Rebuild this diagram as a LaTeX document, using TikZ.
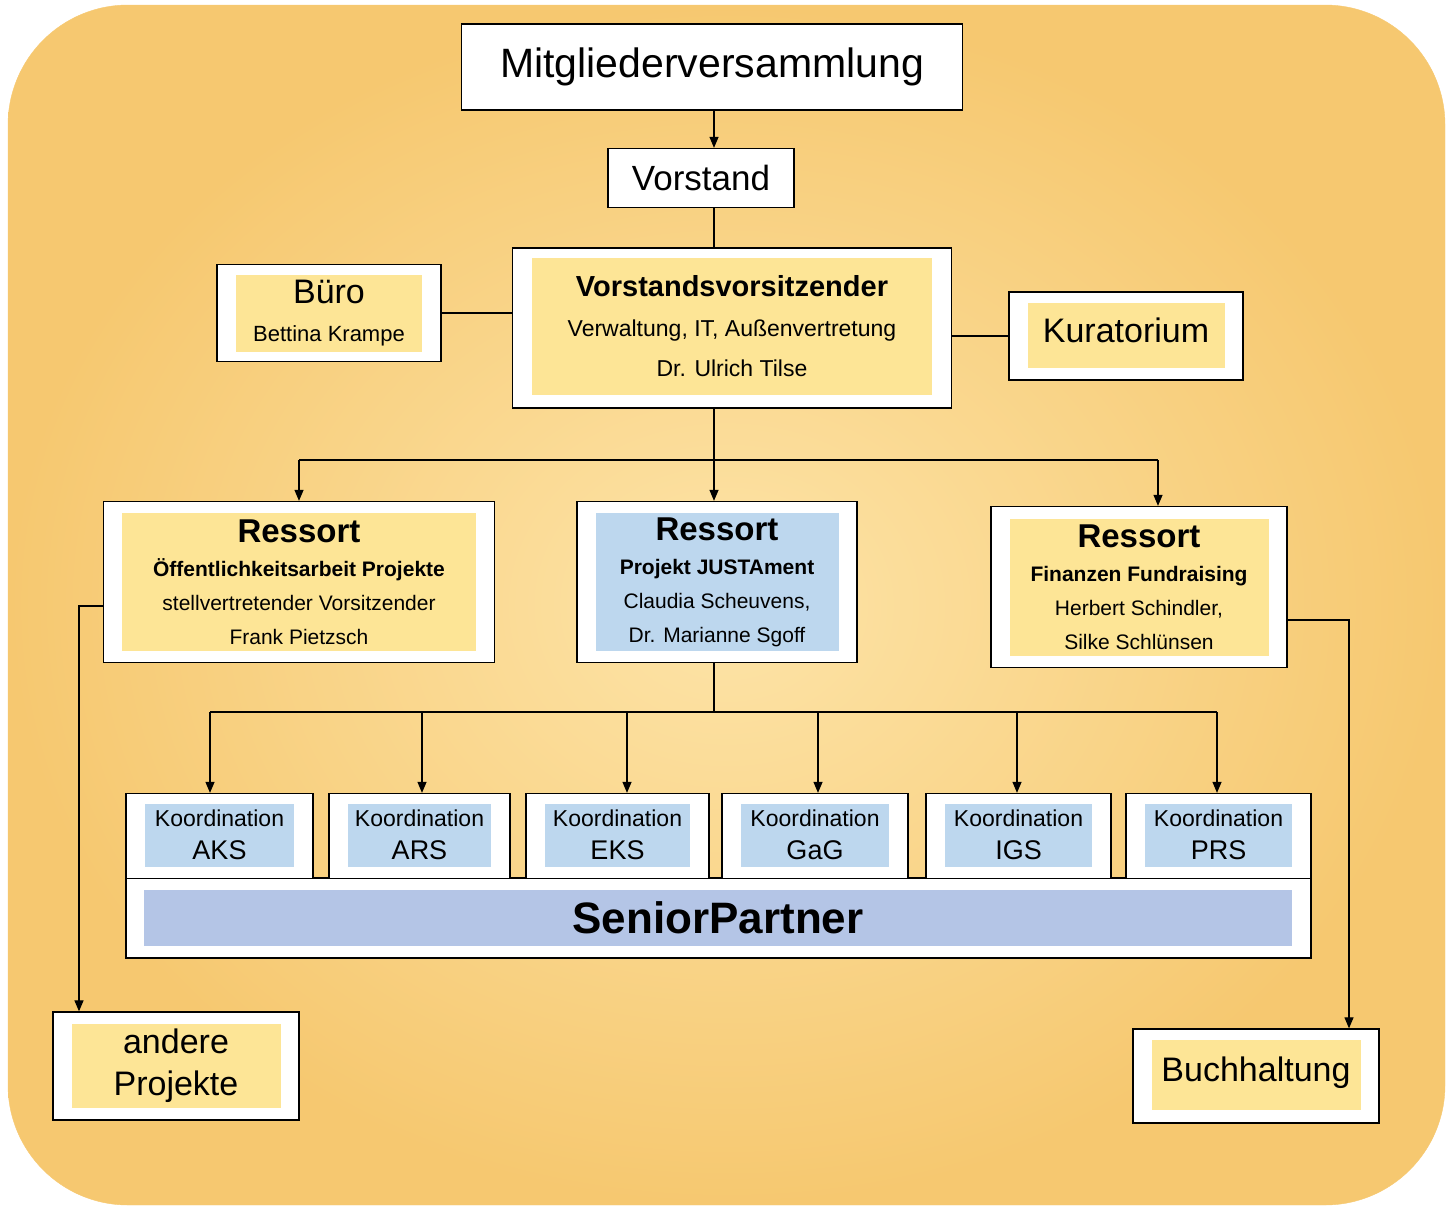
\documentclass[tikz,border=0pt]{standalone}
\usepackage{fontspec}
\setmainfont{Liberation Sans}
\usetikzlibrary{arrows.meta}
\definecolor{bgin}{RGB}{253,228,168}
\definecolor{bgout}{RGB}{246,200,112}
\definecolor{ylw}{RGB}{253,229,150}
\definecolor{blu}{RGB}{189,215,238}
\definecolor{spblu}{RGB}{180,197,230}
\tikzset{
  outer/.style={draw=black,fill=white,line width=1.3pt,inner sep=0pt},
  inner/.style={inner sep=0pt,align=center,font=#1},
  yl/.style={fill=ylw},
  bl/.style={fill=blu},
  arr/.style={-{Triangle[length=11pt,width=9pt]},line width=1.2pt},
  ln/.style={line width=1.2pt},
  koord/.style={outer,minimum height=85pt},
}
\begin{document}
\begin{tikzpicture}[x=1pt,y=1pt,yscale=-1]
\useasboundingbox (0,0) rectangle (1451,1210);
% background
\shade[inner color=bgin,outer color=bgout,rounded corners=120pt,draw=bgout] (8,5) rectangle (1445,1205);

% top
\node[outer,minimum width=501pt,minimum height=86pt,font=\fontsize{41}{46}\selectfont] (mv) at (712,67) {\raisebox{4pt}{Mitgliederversammlung}};
\node[outer,minimum width=186pt,minimum height=59pt,font=\fontsize{35}{40}\selectfont] (vs) at (701,178) {Vorstand};

% Vorsitzender
\node[outer,minimum width=439pt,minimum height=160pt] (vv) at (732,328) {};
\node[inner=\fontsize{23}{40}\selectfont,yl,minimum width=400pt,minimum height=137pt] (vvi) at (732,326)
  {{\fontsize{29}{34}\selectfont\bfseries Vorstandsvorsitzender}\\Verwaltung, IT, Außenvertretung\\Dr. Ulrich Tilse};
\node[outer,minimum width=224pt,minimum height=97pt] (bu) at (329,313) {};
\node[inner=\fontsize{22}{38}\selectfont,yl,minimum width=186pt,minimum height=77pt] (bui) at (329,313)
  {{\fontsize{34}{36}\selectfont Büro}\\Bettina Krampe};
\node[outer,minimum width=234pt,minimum height=88pt] (ku) at (1126,336) {};
\node[inner=\fontsize{34}{38}\selectfont,yl,minimum width=197pt,minimum height=65pt,anchor=center] (kui) at (1126,335)
  {\raisebox{10pt}{Kuratorium}};

% Ressorts
\node[outer,minimum width=391pt,minimum height=161pt] (r1) at (299,582) {};
\node[inner=\fontsize{21}{34}\selectfont,yl,minimum width=354pt,minimum height=138pt] (r1i) at (299,582)
  {{\fontsize{33}{36}\selectfont\bfseries Ressort}\\{\bfseries Öffentlichkeitsarbeit Projekte}\\stellvertretender Vorsitzender\\Frank Pietzsch};
\node[outer,minimum width=280pt,minimum height=161pt] (r2) at (717,582) {};
\node[inner=\fontsize{21}{34}\selectfont,bl,minimum width=243pt,minimum height=138pt] (r2i) at (717,582)
  {{\fontsize{33}{36}\selectfont\bfseries Ressort}\\{\bfseries Projekt JUSTAment}\\Claudia Scheuvens,\\Dr. Marianne Sgoff};
\node[outer,minimum width=296pt,minimum height=161pt] (r3) at (1139,587) {};
\node[inner=\fontsize{21}{34}\selectfont,yl,minimum width=259pt,minimum height=137pt] (r3i) at (1139,587)
  {{\fontsize{33}{36}\selectfont\bfseries Ressort}\\{\bfseries Finanzen Fundraising}\\Herbert Schindler,\\Silke Schlünsen};

% SeniorPartner
\node[outer,minimum width=1185pt,minimum height=80pt] (sp) at (718.5,918) {};
\node[inner=\fontsize{44}{48}\selectfont\bfseries,fill=spblu,minimum width=1148pt,minimum height=56pt] (spi) at (718,918) {SeniorPartner};

% Koordination
\foreach \nm/\cx/\w/\lab in {k1/219.5/187/AKS,k2/419.5/181/ARS,k3/617.5/183/EKS,k4/815/186/GaG,k5/1018.5/185/IGS,k6/1218.5/185/PRS}{
  \node[koord,minimum width=\w pt] (\nm) at (\cx,836) {};
  \node[inner=\fontsize{23}{33}\selectfont,bl,minimum width=\w pt-38pt,minimum height=63pt] (\nm i) at (\cx,835)
    {Koordination\\{\fontsize{27}{30}\selectfont\lab}};
}

% bottom
\node[outer,minimum width=246pt,minimum height=108pt] (ap) at (176,1066) {};
\node[inner=\fontsize{34}{42}\selectfont,yl,minimum width=209pt,minimum height=84pt] (api) at (176,1066) {andere\\Projekte};
\node[outer,minimum width=246pt,minimum height=94pt] (bh) at (1256,1076) {};
\node[inner=\fontsize{34}{38}\selectfont,yl,minimum width=209pt,minimum height=70pt] (bhi) at (1256,1075) {\raisebox{12pt}{Buchhaltung}};

% connectors
\draw[arr] (mv.south -| 714,0) -- (vs.north -| 714,0);
\draw[ln] (vs.south -| 714,0) -- (vv.north -| 714,0);
\draw[ln] (bu.east) -- (vv.west |- bu.east);
\draw[ln] (vv.east |- ku.west) -- (ku.west);
\coordinate (b1) at (714,460);
\draw[ln] (vv.south -| b1) -- (b1);
\draw[ln] (b1 -| r1.north) -- (1158,460);
\draw[arr] (b1 -| r1.north) -- (r1.north);
\draw[arr] (b1) -- (r2.north -| b1);
\draw[arr] (1158,460) -- (r3.north -| 1158,0);
\coordinate (b2) at (714,712);
\draw[ln] (r2.south -| b2) -- (b2);
\draw[ln] (210,712) -- (1217,712);
\foreach \nm/\xx in {k1/210,k2/422,k3/627,k4/818,k5/1017,k6/1217}
  \draw[arr] (\xx,712) -- (\nm.north -| \xx,0);
\draw[ln,arr] (r1.west |- 0,606) -- (79,606) -- (ap.north -| 79,0);
\draw[ln,arr] (r3.east |- 0,620) -- (1349,620) -- (bh.north -| 1349,0);
\end{tikzpicture}
\end{document}
